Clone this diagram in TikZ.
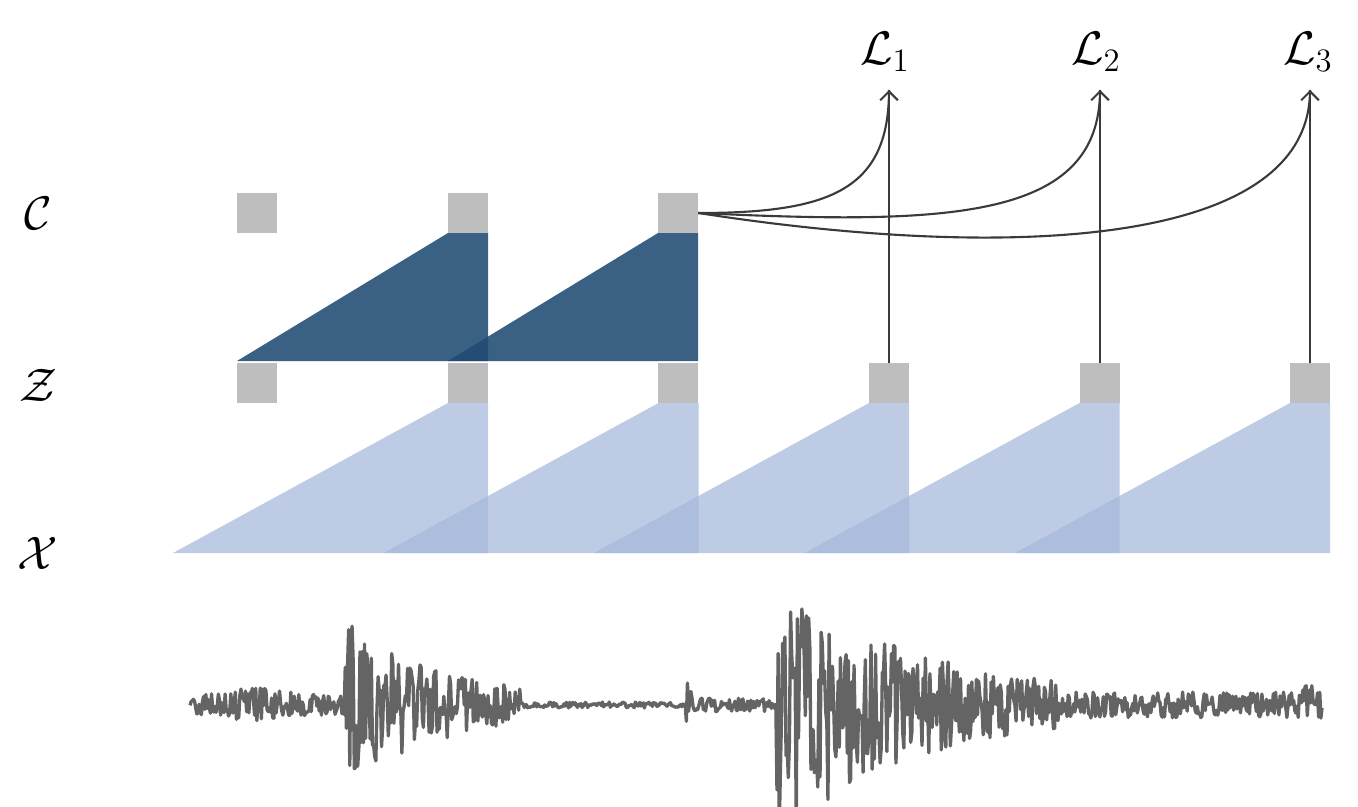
\documentclass[tikz,border=0pt]{standalone}
\usetikzlibrary{arrows.meta}
\definecolor{sq}{HTML}{BEBEBE}
\definecolor{dk}{HTML}{1F4A73}
\definecolor{lt}{HTML}{A7B9DC}
\definecolor{wv}{HTML}{646464}
\definecolor{ln}{HTML}{3A3A3A}
\begin{document}
\begin{tikzpicture}[x=0.02cm,y=-0.02cm,
  box/.style={fill=sq,draw=none,minimum size=0.8cm,inner sep=0pt},
  lab/.style={font=\LARGE,scale=1.55},
  dark/.style={fill=dk,fill opacity=0.88,draw=none},
  light/.style={fill=lt,fill opacity=0.75,draw=none},
  conn/.style={draw=ln,line width=1.2pt},
  wave/.style={draw=wv,line width=1.9pt,line join=round},
  declare function={env(\t)=ifthenelse(\t<345,10+8*exp(-((\t-250)/40)^2),
     ifthenelse(\t<520,6+75*exp(-(\t-355)/90),
     ifthenelse(\t<685,3,
     ifthenelse(\t<775,7+18*exp(-((\t-688)/5)^2),
     ifthenelse(\t<1060,10+105*exp(-(\t-800)/130),
     ifthenelse(\t<1300,13,22))))));}]
\useasboundingbox (0,0) rectangle (1358,807);
\pgfmathsetseed{11}
% light triangles
\foreach \i in {0,...,4}{
  \fill[light] ({173+210.5*\i},553) -- ({448+210.5*\i},403) -- ({488+210.5*\i},403) -- ({488+210.5*\i},553) -- cycle;}
% dark triangles
\fill[dark] (237,361) -- (448,233) -- (488,233) -- (488,361) -- cycle;
\fill[dark] (448,361) -- (658,233) -- (698,233) -- (698,361) -- cycle;
% squares
\node[box] (c1) at (257,213) {};
\node[box] (c2) at (468,213) {};
\node[box] (c3) at (678,213) {};
\node[box] (z1) at (257,383) {};
\node[box] (z2) at (468,383) {};
\node[box] (z3) at (678,383) {};
\node[box] (z4) at (889,383) {};
\node[box] (z5) at (1100,383) {};
\node[box] (z6) at (1310,383) {};
% labels
\node[lab] (lc) at (38,213) {$\mathcal{C}$};
\node[lab] (lz) at (38,385) {$\mathcal{Z}$};
\node[lab] (lx) at (38,553) {$\mathcal{X}$};
\node[lab] (l1) at (885,52) {$\mathcal{L}_1$};
\node[lab] (l2) at (1096,52) {$\mathcal{L}_2$};
\node[lab] (l3) at (1308,52) {$\mathcal{L}_3$};
\coordinate (t1) at (889,90);
\coordinate (t2) at (1100,90);
\coordinate (t3) at (1310,90);
\draw[conn,-{Straight Barb[length=5pt,width=10pt]}] (z4.north) -- (t1);
\draw[conn,-{Straight Barb[length=5pt,width=10pt]}] (z5.north) -- (t2);
\draw[conn,-{Straight Barb[length=5pt,width=10pt]}] (z6.north) -- (t3);
\draw[conn] (c3.east) .. controls (830,213) and (889,190) .. (t1);
\draw[conn] (c3.east) .. controls (950,225) and (1100,220) .. (t2);
\draw[conn] (c3.east) .. controls (1000,260) and (1310,250) .. (t3);
% waveform
\draw[wave] plot[samples=1000,domain=190:1322] (\x,{705+env(\x)*rand});
\end{tikzpicture}
\end{document}
